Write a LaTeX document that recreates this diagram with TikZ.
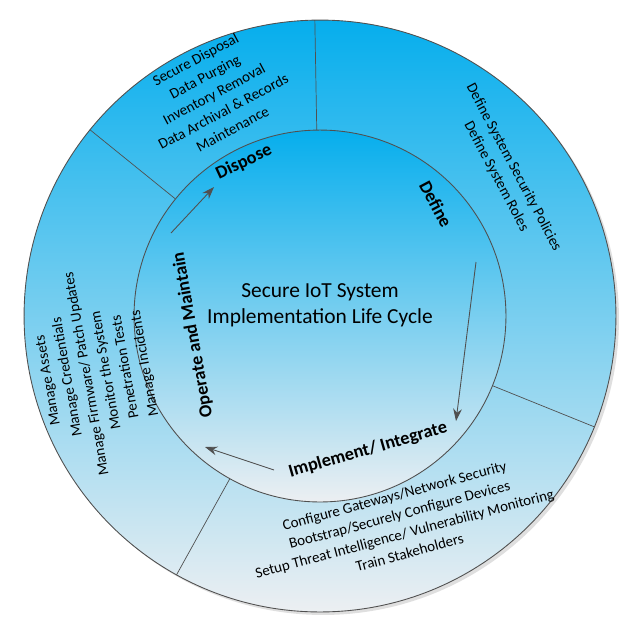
\documentclass[tikz,border=0pt]{standalone}
\usepackage{fontspec}
\setmainfont{Carlito}
\usetikzlibrary{arrows.meta}
\definecolor{topblue}{RGB}{6,174,237}
\definecolor{lowgrey}{RGB}{236,239,242}
\definecolor{rimline}{RGB}{80,80,80}
\tikzset{
  ring/.style={draw=rimline, line width=0.5pt, top color=topblue, bottom color=lowgrey},
  divider/.style={draw=rimline, line width=0.4pt},
  phase/.style={font=\fontsize{10.4}{12}\selectfont\bfseries, align=center},
  tasks/.style={font=\fontsize{8.5}{11.2}\selectfont, align=center, inner sep=0pt},
  cycle/.style={draw=rimline, line width=0.5pt, -{Stealth[length=7pt,width=5pt]}}
}
\begin{document}
\begin{tikzpicture}[x=0.02cm,y=-0.02cm]
  \useasboundingbox (0,0) rectangle (635,630);
  \coordinate (C) at (320,316);
  % outer and inner rings
  \fill[black!25, opacity=0.5] (323,319) circle[radius=5.92cm];
  \shade[ring] (C) circle[radius=5.92cm];
  \foreach \a in {91,141,-22,-119}
    \draw[divider] ([shift={(\a:3.72cm)}]C) -- ([shift={(\a:5.92cm)}]C);
  \shade[ring] (C) circle[radius=3.72cm];
  % centre title
  \node[font=\fontsize{12.2}{15}\selectfont, align=center] (title) at (320,305)
    {Secure IoT System\\Implementation Life Cycle};
  % phase names
  \node[phase, rotate=25] (dispose) at (244,162) {Dispose};
  \node[phase, rotate=-62] (define) at (436,204) {Define};
  \node[phase, rotate=16] (implement) at (368,450) {Implement/ Integrate};
  \node[phase, rotate=100] (operate) at (193,335) {Operate and Maintain};
  % task lists
  \node[tasks, rotate=28] (disposeTasks) at (214,94)
    {Secure Disposal\\Data Purging\\Inventory Removal\\Data Archival \& Records\\Maintenance};
  \node[tasks, rotate=-62] (defineTasks) at (505,172)
    {Define System Security Policies\\Define System Roles};
  \node[tasks, rotate=15] (implementTasks) at (402,524)
    {Configure Gateways/Network Security\\Bootstrap/Securely Configure Devices\\Setup Threat Intelligence/ Vulnerability Monitoring\\Train Stakeholders};
  \node[tasks, rotate=100] (operateTasks) at (97,372)
    {Manage Assets\\Manage Credentials\\Manage Firmware/ Patch Updates\\Monitor the System\\Penetration Tests\\Manage Incidents};
  % cycle arrows
  \coordinate (d0) at (171,233);
  \coordinate (d1) at (214,187);
  \coordinate (i0) at (476,262);
  \coordinate (i1) at (456,421);
  \coordinate (o0) at (274,470);
  \coordinate (o1) at (205,447);
  \draw[cycle] (d0) -- (d1);
  \draw[cycle] (i0) -- (i1);
  \draw[cycle] (o0) -- (o1);
\end{tikzpicture}
\end{document}
